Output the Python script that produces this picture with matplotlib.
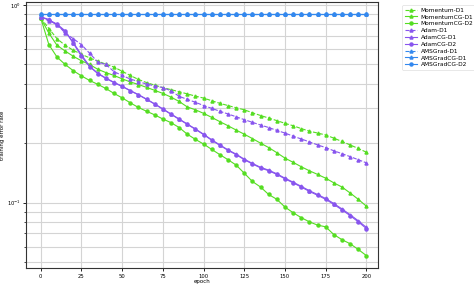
import matplotlib
matplotlib.use("Agg")
import matplotlib.pyplot as plt
import numpy as np

epochs = list(range(0, 201, 5))

momentum_d1 = [0.86, 0.76, 0.675, 0.625, 0.59, 0.563, 0.54, 0.52, 0.502, 0.485,
               0.462, 0.44, 0.42, 0.405, 0.393, 0.382, 0.373, 0.364, 0.355, 0.346,
               0.338, 0.328, 0.318, 0.31, 0.302, 0.295, 0.285, 0.276, 0.268, 0.26,
               0.252, 0.245, 0.237, 0.23, 0.225, 0.22, 0.212, 0.204, 0.196, 0.188, 0.18]
momentumcg_d1 = [0.86, 0.72, 0.625, 0.585, 0.55, 0.522, 0.5, 0.473, 0.455, 0.44,
                 0.423, 0.408, 0.396, 0.383, 0.37, 0.357, 0.342, 0.325, 0.305, 0.295,
                 0.283, 0.27, 0.257, 0.245, 0.233, 0.222, 0.211, 0.2, 0.19, 0.179,
                 0.168, 0.16, 0.152, 0.145, 0.139, 0.133, 0.126, 0.12, 0.112, 0.104, 0.096]
momentumcg_d2 = [0.86, 0.63, 0.545, 0.5, 0.465, 0.438, 0.415, 0.397, 0.378, 0.357,
                 0.339, 0.32, 0.303, 0.29, 0.278, 0.265, 0.254, 0.24, 0.222, 0.209,
                 0.198, 0.186, 0.175, 0.165, 0.155, 0.141, 0.128, 0.12, 0.11, 0.104,
                 0.095, 0.089, 0.084, 0.08, 0.077, 0.0755, 0.069, 0.065, 0.062, 0.058, 0.054]
adam_d1 = [0.87, 0.83, 0.80, 0.72, 0.675, 0.63, 0.57, 0.515, 0.5, 0.46,
           0.44, 0.422, 0.41, 0.398, 0.39, 0.382, 0.368, 0.345, 0.333, 0.322,
           0.31, 0.3, 0.29, 0.281, 0.272, 0.263, 0.255, 0.247, 0.24, 0.232,
           0.225, 0.217, 0.21, 0.203, 0.196, 0.19, 0.183, 0.177, 0.171, 0.165, 0.159]
adamcg_d1 = [0.87, 0.845, 0.79, 0.735, 0.645, 0.56, 0.49, 0.452, 0.427, 0.406,
             0.388, 0.369, 0.352, 0.334, 0.316, 0.298, 0.281, 0.265, 0.25, 0.236,
             0.222, 0.208, 0.196, 0.185, 0.176, 0.166, 0.158, 0.151, 0.146, 0.14,
             0.133, 0.127, 0.121, 0.115, 0.11, 0.105, 0.099, 0.093, 0.087, 0.081, 0.075]
adamcg_d2 = [0.87, 0.84, 0.80, 0.74, 0.64, 0.55, 0.488, 0.45, 0.425, 0.405,
             0.387, 0.368, 0.351, 0.333, 0.315, 0.297, 0.28, 0.264, 0.249, 0.235,
             0.221, 0.207, 0.195, 0.184, 0.175, 0.165, 0.157, 0.15, 0.145, 0.139,
             0.132, 0.126, 0.12, 0.114, 0.109, 0.104, 0.098, 0.092, 0.086, 0.08, 0.074]
amsgrad_d1 = [0.9] * 41
amsgradcg_d1 = [0.9] * 41
amsgradcg_d2 = [0.9] * 41

green = '#55dd22'
purple = '#8855ee'
blue = '#3388ee'

series = [
    ("Momentum-D1", momentum_d1, green, '--', '^'),
    ("MomentumCG-D1", momentumcg_d1, green, '-', '^'),
    ("MomentumCG-D2", momentumcg_d2, green, '-', 'o'),
    ("Adam-D1", adam_d1, purple, '--', '^'),
    ("AdamCG-D1", adamcg_d1, purple, '-', '^'),
    ("AdamCG-D2", adamcg_d2, purple, '-', 'o'),
    ("AMSGrad-D1", amsgrad_d1, blue, '--', '^'),
    ("AMSGradCG-D1", amsgradcg_d1, blue, '-', '^'),
    ("AMSGradCG-D2", amsgradcg_d2, blue, '-', 'o'),
]

fig = plt.figure(figsize=(4.74, 2.87), dpi=100)
ax = fig.add_axes([0.055, 0.066, 0.742, 0.927])

for name, vals, c, ls, mk in series:
    ax.plot(epochs, vals, color=c, linestyle=ls, marker=mk, markersize=2.2,
            linewidth=0.8, label=name)

ax.set_yscale('log')
ax.set_ylim(0.0467, 1.035)
ax.set_xlim(-9, 207)
ax.set_xticks([0, 25, 50, 75, 100, 125, 150, 175, 200])
ax.grid(True, which='both', color='#d4d4d4', linewidth=0.8)
ax.set_axisbelow(True)
ax.tick_params(labelsize=3.8, length=2, width=0.6, pad=2)
ax.tick_params(which='minor', length=1.2, width=0.5)
for s in ax.spines.values():
    s.set_linewidth(0.8)
    s.set_color('#333333')
ax.set_xlabel('epoch', fontsize=4, labelpad=0.5)
ax.set_ylabel('training error rate', fontsize=4, labelpad=1)

leg = ax.legend(loc='upper left', bbox_to_anchor=(1.07, 0.99), fontsize=4.2,
                frameon=True, borderaxespad=0, handlelength=2.0, labelspacing=0.3,
                handletextpad=0.6, borderpad=0.5)
leg.get_frame().set_linewidth(0.4)

fig.savefig('out.png', dpi=100)
